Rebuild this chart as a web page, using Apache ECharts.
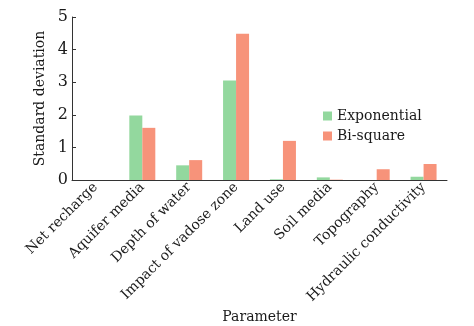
<!DOCTYPE html>
<html><head><meta charset="utf-8">
<script src="https://cdn.jsdelivr.net/npm/echarts@6/dist/echarts.min.js"></script>
<style>html,body{margin:0;padding:0;background:#fff}#c{width:474px;height:326px}</style>
</head><body><div id="c"></div>
<script>
var categories = ['Net recharge','Aquifer media','Depth of water','Impact of vadose zone','Land use','Soil media','Topography','Hydraulic conductivity'];
var exponential = [0, 1.98, 0.45, 3.05, 0.02, 0.08, 0, 0.1];
var bisquare = [0, 1.6, 0.61, 4.49, 1.2, 0.01, 0.33, 0.49];
var yTicks = [0, 1, 2, 3, 4, 5];
var font = 'DejaVu Serif';
var chart = echarts.init(document.getElementById('c'));
chart.setOption({
  animation: false,
  textStyle: {fontFamily: font, color: '#1a1a1a'},
  grid: {left: 72, right: 27, top: 17, bottom: 146},
  legend: {
    left: 318, top: 104, orient: 'vertical', itemWidth: 9, itemHeight: 9, itemGap: 6,
    icon: 'rect', textStyle: {fontFamily: font, fontSize: 14, color: '#1a1a1a'},
    data: ['Exponential', 'Bi-square']
  },
  xAxis: {
    type: 'category', data: categories,
    name: 'Parameter', nameLocation: 'middle', nameGap: 130,
    nameTextStyle: {fontFamily: font, fontSize: 14, color: '#1a1a1a'},
    axisLine: {lineStyle: {color: '#333', width: 1}},
    axisTick: {inside: true, length: 5, lineStyle: {color: '#333'}},
    axisLabel: {rotate: 45, fontFamily: font, fontSize: 14, color: '#1a1a1a', margin: 5, interval: 0}
  },
  yAxis: {
    type: 'value', min: yTicks[0], max: yTicks[yTicks.length - 1], interval: 1,
    name: 'Standard deviation', nameLocation: 'middle', nameGap: 24,
    nameTextStyle: {fontFamily: font, fontSize: 14, color: '#1a1a1a'},
    splitLine: {show: false},
    axisLine: {show: true, lineStyle: {color: '#333', width: 1}},
    axisTick: {show: true, inside: true, length: 4, lineStyle: {color: '#333'}},
    axisLabel: {fontFamily: font, fontSize: 16, color: '#1a1a1a', margin: 4}
  },
  series: [
    {name: 'Exponential', type: 'bar', data: exponential, barWidth: 13, barGap: '0%', itemStyle: {color: '#93d89e'}},
    {name: 'Bi-square', type: 'bar', data: bisquare, barWidth: 13, barGap: '0%', itemStyle: {color: '#f7937a'}}
  ]
});
</script></body></html>
